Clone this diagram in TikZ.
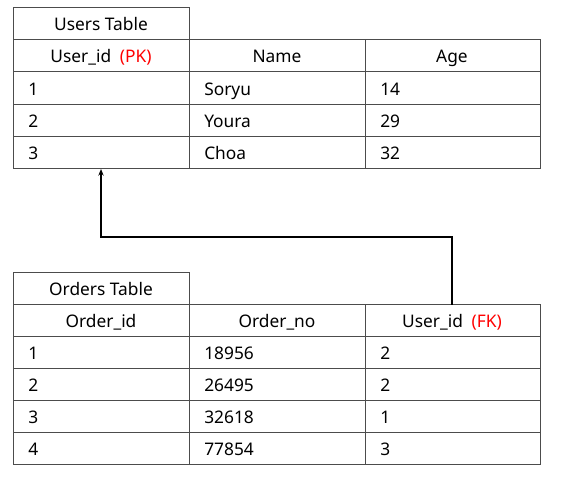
\documentclass[tikz,border=0pt]{standalone}
\usepackage{fontspec}
\setmainfont{Noto Sans}
\usepackage{tikz}
\usetikzlibrary{arrows.meta}
\newcommand{\key}[1]{\hspace{6.5pt}\textcolor{red}{#1}}

\begin{document}
\begin{tikzpicture}[x=0.75pt, y=-0.75pt, >={Stealth[length=5pt,width=4pt]},
  grid/.style={draw=black!70, line width=0.75pt},
  txt/.style={font=\fontsize{13}{15}\selectfont, inner sep=0pt,
    text height=12pt, text depth=1.5pt},
  val/.style={txt, anchor=west}]
\useasboundingbox (0,0) rectangle (562,485);

% users table
\draw[grid] (13,8) rectangle (189,40);
\draw[grid] (13,40) rectangle (540,169);
\draw[grid] (13,72) -- (540,72);
\draw[grid] (13,105) -- (540,105);
\draw[grid] (13,137) -- (540,137);
\draw[grid] (189,40) -- (189,169);
\draw[grid] (365,40) -- (365,169);
\node[txt] (utitle) at (101,24) {Users Table};
\node[txt] (uid) at (101,56) {User\_id\key{(PK)}};
\node[txt] (uname) at (277,56) {Name};
\node[txt] (uage) at (452,56) {Age};
\node[val] (u1) at (28,88.5) {1};
\node[val] (u1n) at (204,88.5) {Soryu};
\node[val] (u1a) at (380,88.5) {14};
\node[val] (u2) at (28,121) {2};
\node[val] (u2n) at (204,121) {Youra};
\node[val] (u2a) at (380,121) {29};
\node[val] (u3) at (28,153) {3};
\node[val] (u3n) at (204,153) {Choa};
\node[val] (u3a) at (380,153) {32};

% orders table
\draw[grid] (13,273) rectangle (189,305);
\draw[grid] (13,305) rectangle (540,465);
\draw[grid] (13,337) -- (540,337);
\draw[grid] (13,369) -- (540,369);
\draw[grid] (13,401) -- (540,401);
\draw[grid] (13,433) -- (540,433);
\draw[grid] (189,305) -- (189,465);
\draw[grid] (365,305) -- (365,465);
\node[txt] (otitle) at (101,289) {Orders Table};
\node[txt] (oid) at (101,321) {Order\_id};
\node[txt] (ono) at (277,321) {Order\_no};
\node[txt] (ofk) at (452,321) {User\_id\key{(FK)}};
\node[val] (o1) at (28,353) {1};
\node[val] (o1n) at (204,353) {18956};
\node[val] (o1u) at (380,353) {2};
\node[val] (o2) at (28,385) {2};
\node[val] (o2n) at (204,385) {26495};
\node[val] (o2u) at (380,385) {2};
\node[val] (o3) at (28,417) {3};
\node[val] (o3n) at (204,417) {32618};
\node[val] (o3u) at (380,417) {1};
\node[val] (o4) at (28,449) {4};
\node[val] (o4n) at (204,449) {77854};
\node[val] (o4u) at (380,449) {3};

% reference
\coordinate (fk) at (452,305);
\coordinate (bend) at (452,237);
\coordinate (pk) at (101,169);
\draw[->, line width=1.5pt] (fk) -- (bend) -| (pk);
\end{tikzpicture}
\end{document}
